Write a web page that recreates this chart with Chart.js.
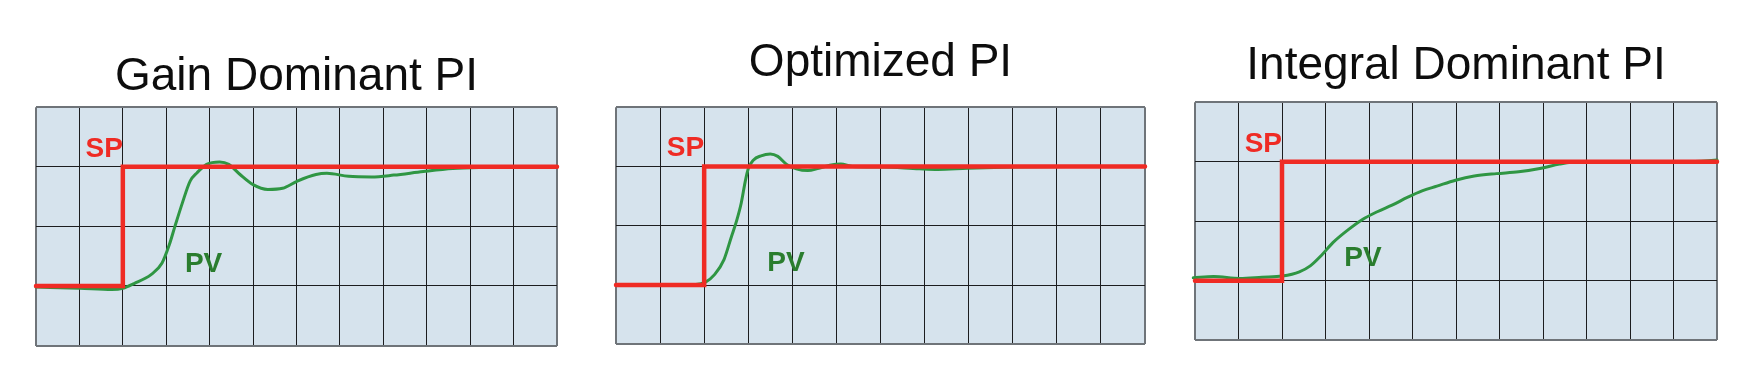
<!DOCTYPE html>
<html lang="en">
<head>
  <meta charset="UTF-8" />
  <title>PI tuning responses</title>
  <script src="https://cdn.jsdelivr.net/npm/chart.js"></script>
  <style>
    body {
      margin: 0;
      background: #ffffff;
      width: 1752px;
      height: 386px;
      position: relative;
      overflow: hidden;
    }
    canvas {
      position: absolute;
      top: 0;
    }
  </style>
</head>
<body>
  <canvas id="gain"></canvas>
  <canvas id="optimized"></canvas>
  <canvas id="integral"></canvas>

  <script>
    // chart titles
    const titles = ['Gain Dominant PI', 'Optimized PI', 'Integral Dominant PI'];

    // setpoint step (same for all three)
    const spTime = [0, 2, 2, 12];
    const spLevel = [1, 1, 3, 3];

    // process value, gain dominant
    const pv1Time = [0, 1, 1.75, 2, 2.26, 2.65, 2.9, 3.07, 3.2, 3.37, 3.55, 3.71, 3.93, 4.23, 4.44, 4.7, 5, 5.34, 5.68, 6.02, 6.45, 6.7, 7.2, 7.73, 8.24, 8.92, 9.6, 10.3, 11.14, 12];
    const pv1Level = [0.98, 0.96, 0.94, 0.96, 1.04, 1.19, 1.38, 1.69, 2.0, 2.39, 2.76, 2.9, 3.04, 3.08, 3.04, 2.87, 2.7, 2.62, 2.64, 2.76, 2.87, 2.89, 2.84, 2.83, 2.86, 2.92, 2.97, 2.99, 3.0, 3.0];

    // process value, optimized
    const pv2Time = [0, 0.97, 1.81, 2.03, 2.24, 2.45, 2.62, 2.73, 2.84, 2.93, 3, 3.12, 3.29, 3.5, 3.67, 3.88, 4.09, 4.35, 4.6, 4.85, 5.1, 5.36, 6.03, 6.88, 7.3, 7.97, 8.99, 10.25, 12];
    const pv2Level = [1.0, 1.0, 1.01, 1.05, 1.18, 1.43, 1.82, 2.07, 2.38, 2.74, 2.96, 3.11, 3.18, 3.21, 3.17, 3.03, 2.96, 2.93, 2.97, 3.02, 3.04, 3.0, 2.99, 2.96, 2.95, 2.97, 2.99, 3.0, 3.0];

    // process value, integral dominant
    const pv3Time = [-0.04, 0.43, 1.03, 1.54, 2.01, 2.4, 2.65, 2.91, 3.17, 3.51, 3.85, 4.19, 4.53, 4.88, 5.22, 5.56, 5.99, 6.42, 6.93, 7.44, 7.96, 8.38, 8.81, 9.67, 10.52, 11.38, 12, 12.15];
    const pv3Level = [1.05, 1.07, 1.04, 1.06, 1.08, 1.15, 1.25, 1.43, 1.64, 1.85, 2.03, 2.16, 2.27, 2.4, 2.51, 2.59, 2.69, 2.76, 2.8, 2.83, 2.89, 2.96, 3.0, 3.0, 2.99, 3.0, 3.03, 3.04];

    const pvTimes = [pv1Time, pv2Time, pv3Time];
    const pvLevels = [pv1Level, pv2Level, pv3Level];

    // where each grid sits on the page, and title spacing
    const panels = [
      { id: 'gain',      left: 36,   right: 557,  top: 107, bottom: 345.5, titleTop: 50, titleBottom: 2 },
      { id: 'optimized', left: 616,  right: 1145, top: 107, bottom: 344.3, titleTop: 36, titleBottom: 16 },
      { id: 'integral',  left: 1195, right: 1717, top: 102, bottom: 340.3, titleTop: 39, titleBottom: 8 }
    ];

    const FONT = '"Liberation Sans", Arial, Helvetica, sans-serif';
    const pts = (xs, ys) => xs.map((x, i) => ({ x, y: ys[i] }));

    const gridBg = {
      id: 'gridBg',
      beforeDraw(chart) {
        const { ctx, chartArea: a } = chart;
        ctx.save();
        ctx.fillStyle = '#d6e3ed';
        ctx.fillRect(a.left, a.top, a.width, a.height);
        ctx.restore();
      }
    };

    // SP / PV tags, placed in data units
    const tags = {
      id: 'tags',
      afterDatasetsDraw(chart, args, opts) {
        const { ctx, scales: { x, y } } = chart;
        ctx.save();
        ctx.font = 'bold 28px ' + FONT;
        ctx.textBaseline = 'alphabetic';
        opts.items.forEach(t => {
          ctx.fillStyle = t.color;
          ctx.textAlign = t.align;
          ctx.fillText(t.text, x.getPixelForValue(t.x), y.getPixelForValue(t.y));
        });
        ctx.restore();
      }
    };

    function gridOpts(max) {
      return {
        drawTicks: false,
        color: c => (c.tick && (c.tick.value === 0 || c.tick.value === max)) ? '#6f7479' : '#1c1d1f',
        lineWidth: c => (c.tick && (c.tick.value === 0 || c.tick.value === max)) ? 2 : 1
      };
    }

    panels.forEach((p, i) => {
      const pad = 20;
      const canvas = document.getElementById(p.id);
      canvas.width = p.right - p.left + pad * 2;
      canvas.height = 386;
      canvas.style.left = (p.left - pad) + 'px';

      new Chart(canvas, {
        type: 'line',
        data: {
          datasets: [
            {
              label: 'SP',
              data: pts(spTime, spLevel),
              borderColor: '#ef2b24',
              borderWidth: 4.5,
              borderCapStyle: 'round',
              pointRadius: 0,
              tension: 0,
              clip: 8
            },
            {
              label: 'PV',
              data: pts(pvTimes[i], pvLevels[i]),
              borderColor: '#2f9643',
              borderWidth: 3,
              borderCapStyle: 'round',
              cubicInterpolationMode: 'monotone',
              pointRadius: 0,
              clip: 10
            }
          ]
        },
        options: {
          responsive: false,
          animation: false,
          layout: { padding: { left: pad, right: pad, top: 0, bottom: 386 - p.bottom } },
          plugins: {
            legend: { display: false },
            tooltip: { enabled: false },
            title: {
              display: true,
              text: titles[i],
              color: '#0d0d0d',
              font: { family: FONT, size: 46, weight: 'normal', lineHeight: 1.2 },
              padding: { top: p.titleTop, bottom: p.titleBottom }
            },
            tags: {
              items: [
                { text: 'SP', x: 2.0, y: 3.17, color: '#ef2b24', align: 'right' },
                { text: 'PV', x: 3.43, y: 1.24, color: '#2a7d2e', align: 'left' }
              ]
            }
          },
          scales: {
            x: {
              type: 'linear', min: 0, max: 12,
              ticks: { display: false, stepSize: 1 },
              grid: gridOpts(12),
              border: { display: false }
            },
            y: {
              min: 0, max: 4,
              ticks: { display: false, stepSize: 1 },
              grid: gridOpts(4),
              border: { display: false }
            }
          }
        },
        plugins: [gridBg, tags]
      });
    });
  </script>
</body>
</html>
